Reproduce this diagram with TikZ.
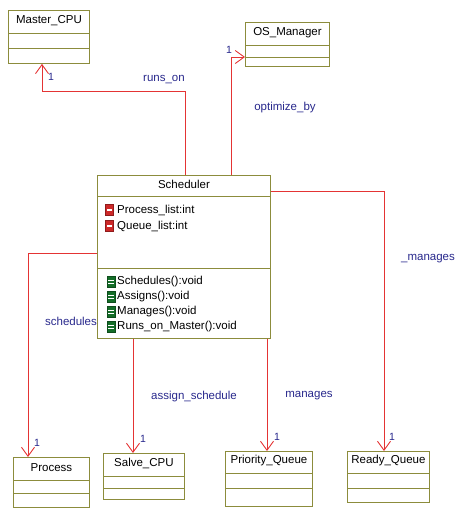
\documentclass[tikz,border=0pt]{standalone}
\usepackage{fontspec}
\setmainfont{Liberation Sans}
\usetikzlibrary{arrows.meta,calc}
\definecolor{assocred}{RGB}{228,52,52}
\definecolor{labelblue}{RGB}{40,40,140}
\definecolor{boxolive}{RGB}{140,140,60}
\definecolor{attrred}{RGB}{205,40,40}
\definecolor{methgreen}{RGB}{20,110,40}
\tikzset{
  cls/.style={draw=boxolive, line width=0.9pt, fill=white, rectangle, inner sep=0pt, anchor=north west},
  clsline/.style={draw=boxolive, line width=0.9pt},
  ttl/.style={font=\fontsize{11.5}{13}\selectfont, text=black, inner sep=0pt},
  member/.style={font=\fontsize{11.5}{13}\selectfont, text=black, inner sep=0pt, anchor=west},
  assoc/.style={draw=assocred, line width=0.9pt, -{Straight Barb[length=9pt,width=13pt,line width=0.9pt]}},
  lbl/.style={font=\fontsize{11.5}{13}\selectfont, text=labelblue, inner sep=0pt},
  mult/.style={font=\fontsize{10.5}{12}\selectfont, text=labelblue, inner sep=0pt},
  attricon/.pic={
    \fill[attrred, draw=attrred!70!black, line width=0.5pt] (-3.8,-5.5) rectangle (3.8,5.5);
    \fill[white] (-2.8,-0.6) rectangle (2.8,0.8);
  },
  methicon/.pic={
    \fill[methgreen, draw=methgreen!70!black, line width=0.5pt] (-4,-5.3) rectangle (4,5.3);
    \fill[white] (-2.8,-2.3) rectangle (2.8,-1.2);
    \fill[white] (-2.8,1.2) rectangle (2.8,2.3);
  },
}
\begin{document}
\begin{tikzpicture}[x=1pt,y=-1pt]
\useasboundingbox (0,0) rectangle (474,517);

% Master_CPU
\node[cls, minimum width=81pt, minimum height=53pt] (master) at (8,10) {};
\draw[clsline] ([yshift=-23pt]master.north west) -- ([yshift=-23pt]master.north east);
\draw[clsline] ([yshift=-38pt]master.north west) -- ([yshift=-38pt]master.north east);
\node[ttl] (mastert) at ([yshift=-10.5pt]master.north) {Master\_CPU};

% OS_Manager
\node[cls, minimum width=84pt, minimum height=44pt] (os) at (245,22) {};
\draw[clsline] ([yshift=-23pt]os.north west) -- ([yshift=-23pt]os.north east);
\draw[clsline] ([yshift=-35pt]os.north west) -- ([yshift=-35pt]os.north east);
\node[ttl] (ost) at ([yshift=-11pt]os.north) {OS\_Manager};

% Scheduler
\node[cls, minimum width=173pt, minimum height=163pt] (sched) at (97,175) {};
\draw[clsline] ([yshift=-21pt]sched.north west) -- ([yshift=-21pt]sched.north east);
\draw[clsline] ([yshift=-93pt]sched.north west) -- ([yshift=-93pt]sched.north east);
\node[ttl] (schedt) at ([yshift=-9.5pt]sched.north) {Scheduler};
\pic at (109.5,210) {attricon};
\pic at (109.5,226) {attricon};
\node[member] (a1) at (117,210) {Process\_list:int};
\node[member] (a2) at (117,226) {Queue\_list:int};
\pic at (111,282) {methicon};
\pic at (111,297) {methicon};
\pic at (111,312) {methicon};
\pic at (111,327) {methicon};
\node[member] (m1) at (117,282) {Schedules():void};
\node[member] (m2) at (117,297) {Assigns():void};
\node[member] (m3) at (117,312) {Manages():void};
\node[member] (m4) at (117,327) {Runs\_on\_Master():void};

% Process
\node[cls, minimum width=76pt, minimum height=50pt] (proc) at (13,457) {};
\draw[clsline] ([yshift=-23pt]proc.north west) -- ([yshift=-23pt]proc.north east);
\draw[clsline] ([yshift=-36pt]proc.north west) -- ([yshift=-36pt]proc.north east);
\node[ttl] (proct) at ([yshift=-10.5pt]proc.north) {Process};

% Salve_CPU
\node[cls, minimum width=81pt, minimum height=46pt] (salve) at (103,453) {};
\draw[clsline] ([yshift=-23pt]salve.north west) -- ([yshift=-23pt]salve.north east);
\draw[clsline] ([yshift=-35pt]salve.north west) -- ([yshift=-35pt]salve.north east);
\node[ttl] (salvet) at ([yshift=-10.5pt]salve.north) {Salve\_CPU};

% Priority_Queue
\node[cls, minimum width=87pt, minimum height=55pt] (prio) at (225,451) {};
\draw[clsline] ([yshift=-22pt]prio.north west) -- ([yshift=-22pt]prio.north east);
\draw[clsline] ([yshift=-37pt]prio.north west) -- ([yshift=-37pt]prio.north east);
\node[ttl] (priot) at ([yshift=-9.5pt]prio.north) {Priority\_Queue};

% Ready_Queue
\node[cls, minimum width=82pt, minimum height=51pt] (ready) at (347,451) {};
\draw[clsline] ([yshift=-22pt]ready.north west) -- ([yshift=-22pt]ready.north east);
\draw[clsline] ([yshift=-37pt]ready.north west) -- ([yshift=-37pt]ready.north east);
\node[ttl] (readyt) at ([yshift=-9.5pt]ready.north) {Ready\_Queue};

% connectors
\coordinate (rc) at (42,91);
\coordinate (rs) at (185,0);
\draw[assoc] (rs |- sched.north) |- (rc) -- (rc |- master.south);
\coordinate (oc) at (231,57);
\draw[assoc] (oc |- sched.north) -- (oc) -- (oc -| os.west);
\coordinate (sc) at (28,253);
\draw[assoc] (sc -| sched.west) -- (sc) -- (sc |- proc.north);
\coordinate (ac) at (133,0);
\draw[assoc] (ac |- sched.south) -- (ac |- salve.north);
\coordinate (pc) at (267,0);
\draw[assoc] (pc |- sched.south) -- (pc |- prio.north);
\coordinate (qc) at (384,191);
\draw[assoc] (qc -| sched.east) -- (qc) -- (qc |- ready.north);

% association labels
\node[lbl] (l1) at (164,80) {runs\_on};
\node[lbl] (l2) at (285,108) {optimize\_by};
\node[lbl] (l3) at (71,321) {schedules};
\node[lbl] (l4) at (194,397) {assign\_schedule};
\node[lbl] (l5) at (309,396) {manages};
\node[lbl] (l6) at (428,259) {\_manages};

% multiplicities
\node[mult] (n1) at (51,77) {1};
\node[mult] (n2) at (229,50) {1};
\node[mult] (n3) at (37,443) {1};
\node[mult] (n4) at (143,439) {1};
\node[mult] (n5) at (277,437) {1};
\node[mult] (n6) at (392,437) {1};
\end{tikzpicture}
\end{document}
